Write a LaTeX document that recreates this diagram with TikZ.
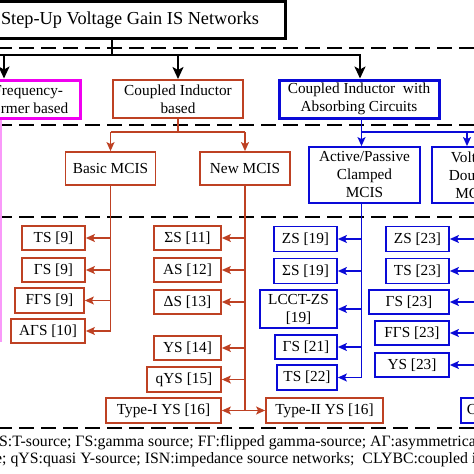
\documentclass[tikz,border=0pt]{standalone}
\usepackage{fontspec}
\setmainfont{Liberation Serif}
\usetikzlibrary{arrows.meta}
\definecolor{cr}{RGB}{190,65,35}
\definecolor{cb}{RGB}{10,10,215}
\definecolor{cm}{RGB}{240,0,240}
\begin{document}
\begin{tikzpicture}[x=1pt,y=-1pt,
 every node/.style={inner sep=0pt, align=center, font=\fontsize{15.3}{18}\selectfont},
 box/.style={draw, minimum height=24.5pt},
 rbox/.style={box, draw=cr, line width=1.8pt},
 bbox/.style={box, draw=cb, line width=1.8pt},
 rl/.style={draw=cr, line width=1.2pt},
 bl/.style={draw=cb, line width=1.4pt},
 kl/.style={draw=black, line width=2.6pt},
 rar/.style={rl, -{Stealth[length=9pt,width=8pt,inset=2pt]}},
 bar/.style={bl, -{Stealth[length=9pt,width=8pt,inset=2pt]}},
 kar/.style={kl, -{Stealth[length=12pt,width=11pt,inset=3pt]}},
 dline/.style={draw=black, line width=2pt, dash pattern=on 15pt off 7pt},
 ml/.style={draw=cm!40, line width=2.4pt},
]
\useasboundingbox (0,0) rectangle (474,474);
\clip (0,0) rectangle (474,474);
\fill[white] (0,0) rectangle (474,474);

% dashed separators
\draw[dline] (-3,48) -- (480,48);
\draw[dline] (-3,125) -- (480,125);
\draw[dline] (-3,217) -- (480,217);
\draw[dline] (-3,428) -- (480,428);

% title
\node[draw, line width=3.2pt, minimum width=311pt, minimum height=37pt,
      font=\fontsize{18.3}{22}\selectfont] (title) at (130,20) {Step-Up Voltage Gain IS Networks};

% second row
\node[draw=cm, line width=3pt, minimum width=138pt, minimum height=38pt] (freq) at (11,99) {High Frequency-\\Transformer based};
\node[draw=cr, line width=2pt, minimum width=130pt, minimum height=38pt] (ci) at (178,99) {Coupled Inductor\\based};
\node[draw=cb, line width=3pt, minimum width=160pt, minimum height=38pt] (ab) at (359,99) {Coupled Inductor\ \ with\\Absorbing Circuits};

% black connectors
\coordinate (tj) at (112,55);
\coordinate (tl) at (4,55);
\coordinate (tr) at (360,55);
\draw[kl] (title.south -| tj) -- (tj);
\draw[kl, line cap=rect] ([xshift=-6pt]tl) -- (tr);
\draw[kar] (tl) -- (tl |- freq.north);
\draw[kar] (ci.north |- tl) -- (ci.north);
\draw[kar] (tr) -- (tr |- ab.north);

% magenta trunk
\coordinate (mt) at (1.2,342);
\draw[ml] (freq.south -| mt) -- (mt);

% third row (red)
\node[rbox, minimum width=90pt, minimum height=33pt] (basic) at (110.5,168.5) {Basic MCIS};
\node[rbox, minimum width=90pt, minimum height=33pt] (new) at (245,168.5) {New MCIS};
\coordinate (rj) at (178,132);
\draw[rl] (ci.south) -- (rj);
\draw[rl] (basic.north |- rj) -- (new.north |- rj);
\draw[rar] (basic.north |- rj) -- (basic.north);
\draw[rar] (new.north |- rj) -- (new.north);

% third row (blue)
\node[bbox, minimum width=111pt, minimum height=56pt] (ap) at (364.5,175) {Active/Passive\\Clamped\\MCIS};
\node[bbox, minimum width=84pt, minimum height=56pt] (vd) at (474,175) {Voltage\\Doubler\\MCIS};
\coordinate (av) at (361.5,132);
\coordinate (bj2) at (467,132);
\coordinate (bend) at (520,132);
\draw[bl] (ab.south -| av) -- (av);
\draw[bl] (av) -- (bend);
\draw[bar] (av) -- (av |- ap.north);
\draw[bar] (bj2) -- (bj2 |- vd.north);

% Basic MCIS children
\node[rbox, minimum width=63pt] (ts9) at (53.5,238) {TS [9]};
\node[rbox, minimum width=63pt] (gs9) at (53.5,270) {ΓS [9]};
\node[rbox, minimum width=69pt] (fgs9) at (49.5,300.5) {FΓS [9]};
\node[rbox, minimum width=74pt] (ags10) at (48,331) {AΓS [10]};
\draw[rl] (basic.south) -- (basic.south |- ags10.east);
\foreach \n in {ts9,gs9,fgs9,ags10} \draw[rar] (basic.south |- \n.east) -- (\n.east);

% New MCIS children
\node[rbox, minimum width=67pt] (ss11) at (187.5,238) {ΣS [11]};
\node[rbox, minimum width=67pt] (as12) at (187.5,270) {AS [12]};
\node[rbox, minimum width=67pt] (ds13) at (187.5,302) {ΔS [13]};
\node[rbox, minimum width=67pt] (ys14) at (187.5,348) {YS [14]};
\node[rbox, minimum width=74pt] (qys15) at (184,379.5) {qYS [15]};
\node[rbox, minimum width=115pt] (t1) at (163.5,410.5) {Type-I YS [16]};
\node[rbox, minimum width=117pt] (t2) at (324.5,410.5) {Type-II YS [16]};
\draw[rl] (new.south) -- (new.south |- t1.east);
\foreach \n in {ss11,as12,ds13,ys14,qys15,t1} \draw[rar] (new.south |- \n.east) -- (\n.east);
\draw[rar] (new.south |- t2.west) -- (t2.west);

% Active/Passive children
\node[bbox, minimum width=63pt, minimum height=25pt] (zs19) at (305.5,239) {ZS [19]};
\node[bbox, minimum width=63pt, minimum height=25pt] (ss19) at (305.5,271) {ΣS [19]};
\node[bbox, minimum width=77pt, minimum height=38pt] (lcc19) at (298.5,309) {LCCT-ZS\\{[19]}};
\node[bbox, minimum width=62pt] (gs21) at (306,347) {ΓS [21]};
\node[bbox, minimum width=60pt, minimum height=25pt] (ts22) at (307,377.5) {TS [22]};
\draw[bl] (av |- ap.south) -- (av |- ts22.east);
\foreach \n in {zs19,ss19,lcc19,gs21,ts22} \draw[bar] (av |- \n.east) -- (\n.east);

% Voltage doubler children
\coordinate (vx) at (505,0);
\node[bbox, minimum width=63pt, minimum height=25pt] (zs23) at (417.5,239) {ZS [23]};
\node[bbox, minimum width=63pt, minimum height=25pt] (ts23) at (417.5,271) {TS [23]};
\node[bbox, minimum width=80pt] (gs23) at (409,302) {ΓS [23]};
\node[bbox, minimum width=74pt] (fgs23) at (412,333) {FΓS [23]};
\node[bbox, minimum width=74pt] (ys23) at (412,365) {YS [23]};
\node[bbox, anchor=west, inner xsep=6pt, minimum height=25pt] (clybc) at (460,410.5) {CLYBC [24]};
\draw[bl] (vx |- vd.south) -- (vx |- ys23.east);
\foreach \n in {zs23,ts23,gs23,fgs23,ys23} \draw[bar] (vx |- \n.east) -- (\n.east);

% legend
\node[anchor=base west, font=\fontsize{15.8}{18}\selectfont] (leg1) at (-1,446)
  {\llap{T}S:T-source; ΓS:gamma source; FΓ:flipped gamma-source; AΓ:asymmetrical gamma-source};
\node[anchor=base west, font=\fontsize{15.8}{18}\selectfont] (leg2) at (2,463)
  {\llap{YS:Y-source}; qYS:quasi Y-source; ISN:impedance source networks;\ \ CLYBC:coupled inductor Y-source boost converter};
\end{tikzpicture}
\end{document}
